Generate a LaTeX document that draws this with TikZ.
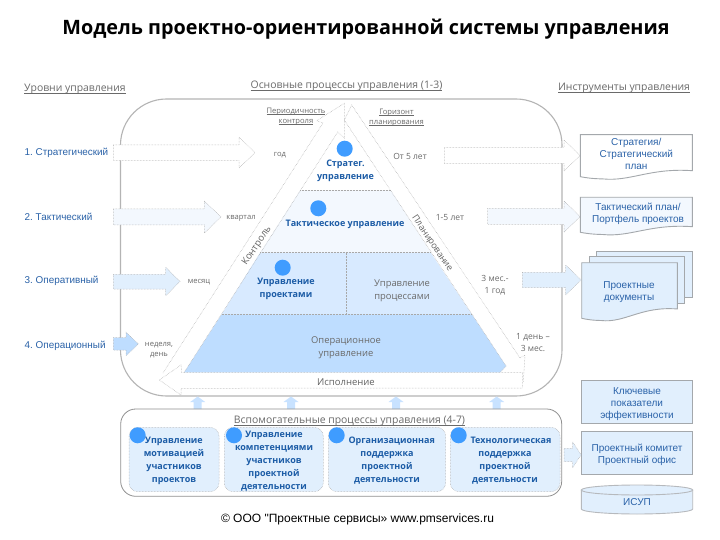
\documentclass[tikz,border=0pt]{standalone}
\usepackage{fontspec}
\setmainfont{Open Sans}
\newfontfamily\arialf{Liberation Sans}
\frenchspacing
\definecolor{txtgray}{HTML}{6A6A6A}
\definecolor{txtblue}{HTML}{2A62A8}
\definecolor{boldblue}{HTML}{1C5CA6}
\definecolor{edgegray}{HTML}{B4B4B4}
\definecolor{docedge}{HTML}{A4A8AC}
\definecolor{dotgray}{HTML}{A8A8A8}
\definecolor{fillA}{HTML}{F3F8FE}
\definecolor{fillB}{HTML}{D8EAFF}
\definecolor{fillC}{HTML}{BEDDFF}
\definecolor{fillD}{HTML}{E1EFFD}
\definecolor{dotblue}{HTML}{3F9CFF}
\newcommand{\ul}[1]{\leavevmode\setbox0\hbox{#1}\rlap{\vrule width\wd0 height-1.1pt depth1.6pt}\box0}
\tikzset{
  blockarrow/.style={draw=dotgray,line width=.5pt,densely dotted},
  dotline/.style={draw=dotgray,line width=.5pt,densely dotted},
  docbox/.style={draw=docedge,line width=.9pt},
  marker/.style={circle,fill=dotblue,minimum size=16pt,inner sep=0pt},
  lab/.style={inner sep=0pt,align=center,text=txtgray,font=\fontsize{8.5}{12}\selectfont},
  period/.style={inner sep=0pt,align=center,text=txtgray,font=\fontsize{7.6}{10.5}\selectfont},
  head/.style={inner sep=0pt,align=center,text=txtgray,font=\fontsize{10.4}{12}\selectfont},
  small/.style={inner sep=0pt,align=center,text=txtgray,font=\fontsize{7.6}{10}\selectfont},
  level/.style={inner sep=0pt,anchor=west,text=txtblue,font=\arialf\fontsize{9.9}{12}\selectfont},
  doc/.style={inner sep=0pt,align=center,text=txtblue,font=\arialf\fontsize{10}{12.2}\selectfont},
  strong/.style={inner sep=0pt,align=center,text=boldblue,font=\bfseries\fontsize{9}{13}\selectfont},
  mid/.style={inner sep=0pt,align=center,text=txtgray,font=\fontsize{9.4}{13}\selectfont},
  dark/.style={inner sep=0pt,align=center,text=black!62,font=\fontsize{9.5}{12}\selectfont},
  upfill/.style={fill=fillC!85!white},
}
\newcommand{\hblock}[8]{% tail, top, bot, headx, barbtop, barbbot, tip, fill
  \path[blockarrow,fill=#8] (#1,#2) -- (#4,#2) -- (#4,#5) -- (#7,{(#5+#6)/2}) -- (#4,#6) -- (#4,#3) -- (#1,#3) -- cycle;}
\newcommand{\upblock}[1]{%
  \path[upfill] (#1-4,409) -- (#1-4,402) -- (#1-7.5,402) -- (#1,396.5) -- (#1+7.5,402) -- (#1+4,402) -- (#1+4,409) -- cycle;}
\newcommand{\wavedoc}[6]{% x1,x2,top,ybl,ybr,fill
  \path[docbox,fill=#6] (#1,#3) -- (#2,#3) -- (#2,#5) .. controls ({#1+0.62*(#2-#1)},#5-3) and ({#1+0.45*(#2-#1)},#4+5) .. ({#1+0.2*(#2-#1)},#4+2.2) .. controls ({#1+0.1*(#2-#1)},#4+2) and ({#1+0.05*(#2-#1)},#4+1) .. (#1,#4) -- cycle;}
\begin{document}
\begin{tikzpicture}[x=1pt,y=-1pt]
\useasboundingbox (0,0) rectangle (720,540);
\fill[white] (0,0) rectangle (720,540);

% title
\node[inner sep=0pt,font=\bfseries\fontsize{19.8}{22}\selectfont] (title) at (366,29) {Модель проектно-ориентированной системы управления};

% headings
\node[head,anchor=west] (hL) at (24,89.5) {\ul{Уровни управления}};
\node[head] (hC) at (346.5,86) {\ul{Основные процессы управления (1-3)}};
\node[head] (hR) at (624,88.5) {\ul{Инструменты управления}};

% main frame
\draw[edgegray,line width=1.1pt,rounded corners=46pt] (120.5,99) rectangle (562,396);

% pyramid
\path[fill=white] (337.7,132) -- (344.3,138) -- (344.3,120) -- (391,190.5) -- (300,190.5) -- cycle;
\path[fill=fillA] (300,190.5) -- (391,190.5) -- (430.7,252.7) -- (260,252.7) -- cycle;
\path[fill=fillB] (260,252.7) -- (430.7,252.7) -- (471.7,314.3) -- (221.7,314.3) -- cycle;
\path[fill=fillC] (221.7,314.3) -- (471.7,314.3) -- (506,366) -- (500,372.3) -- (184.3,372.3) -- cycle;
\draw[dotline] (300,190.5) -- (391,190.5);
\draw[dotline] (260,252.7) -- (430.7,252.7);
\draw[dotline] (221.7,314.3) -- (471.7,314.3);
\draw[dotline] (346.3,252.7) -- (346.3,314.3);

% control arrow
\draw[dotline] (184.3,372.3) -- (337.7,132) -- (344.3,138) -- (344.3,103.3) -- (316.7,120.7) -- (323,123) -- (163,373);
% planning arrow
\draw[dotline] (344.3,120) -- (351.7,105) -- (520,358) -- (525,355) -- (523.3,381.7);
\draw[dotline] (344.3,120) -- (506,366) -- (500,372.3);
% execution arrow
\draw[dotline] (522.3,372.7) -- (181.7,372.7) -- (181,365) -- (159.3,380) -- (181,395) -- (181,388.3) -- (522.3,388) -- cycle;

% left block arrows
\hblock{113.3}{145}{160.5}{239}{137.3}{168}{255}{white}
\hblock{113.3}{209}{225}{204.3}{201}{233}{221}{fillA}
\hblock{113.3}{274.3}{289}{165.7}{267.3}{295.7}{180}{fillD}
\hblock{113.3}{337.7}{350}{126}{332.3}{355.7}{138.3}{fillC}
% right block arrows
\hblock{444.3}{147.3}{163.3}{564}{140}{171}{580}{white}
\hblock{487.7}{208.3}{224.3}{564}{201}{232.3}{580}{fillA}
\hblock{522.3}{272.3}{287.7}{565.7}{265}{295}{581}{fillD}
\hblock{564}{448.3}{461.7}{572.7}{442}{467.7}{581}{fillD}

% up arrows
\upblock{197.7}\upblock{291}\upblock{396}\upblock{496.7}

% markers on the pyramid
\node[marker] (m1) at (344.7,148.7) {};
\node[marker] (m2) at (318.3,208.3) {};
\node[marker] (m3) at (282.7,267.7) {};

% level labels
\node[level] (l1) at (24.5,152.7) {1. Стратегический};
\node[level] (l2) at (24.5,216.5) {2. Тактический};
\node[level] (l3) at (24.5,281) {3. Оперативный};
\node[level] (l4) at (24.5,345.5) {4. Операционный};

% periods
\node[small] (pc) at (296,116.5) {\ul{Периодичность}\\\ul{контроля}};
\node[small] (hp) at (396.5,117.5) {\ul{Горизонт}\\\ul{планирования}};
\node[period] (p1) at (280,155) {год};
\node[period] (p2) at (241,218) {квартал};
\node[period] (p3) at (199,282) {месяц};
\node[period] (p4) at (159,350) {неделя,\\день};
\node[lab] (h1) at (410,156) {От 5 лет};
\node[lab] (h2) at (450,218) {1-5 лет};
\node[lab] (h3) at (495,285) {3 мес.-\\1 год};
\node[lab] (h4) at (533,343) {1 день –\\3 мес.};

% pyramid labels
\node[strong] (s1) at (345.5,171) {Стратег.\\управление};
\node[strong] (s2) at (345,224) {Тактическое управление};
\node[strong] (s3) at (286,288.5) {Управление\\проектами};
\node[mid] (s4) at (402,291) {Управление\\процессами};
\node[mid] (s5) at (346,348) {Операционное\\управление};
\node[dark] (s6) at (346,382) {Исполнение};
\node[dark,rotate=56] (ctl) at (257,246) {Контроль};
\node[dark,rotate=-56,font=\fontsize{9}{12}\selectfont] (pln) at (432,243.5) {Планирование};

% right documents
\wavedoc{580.3}{692.3}{134.7}{176.7}{170.7}{white}
\node[doc] (d1) at (636.3,154) {Стратегия/\\Стратегический\\план};
\wavedoc{580.3}{692.3}{197.3}{232.3}{226.7}{fillA}
\node[doc] (d2) at (638,214) {Тактический план/\\Портфель проектов};
\path[docbox,fill=fillD] (596.7,251) rectangle (692.7,297.3);
\path[docbox,fill=fillD] (589.3,256.7) rectangle (684.7,303.3);
\wavedoc{581.7}{677.3}{262.7}{318.3}{309}{fillD}
\node[doc] (d3) at (629,291.7) {Проектные\\документы};
\node[docbox,fill=fillD,minimum width=111.4pt,minimum height=43pt,inner sep=0pt] (kpibox) at (637,402.2) {};
\node[doc] (d4) at (637,404) {Ключевые\\показатели\\эффективности};
\node[docbox,fill=fillD,minimum width=111.4pt,minimum height=43pt,inner sep=0pt] (pcbox) at (637,452.8) {};
\node[doc] (d5) at (637,455) {Проектный комитет\\Проектный офис};
\path[docbox,draw=docedge!80,fill=fillD] (581.3,490) -- (581.3,509) arc[start angle=180,end angle=360,x radius=55.7pt,y radius=5pt] -- (692.7,490);
\path[docbox,draw=docedge!80,fill=fillD] (637,490) ellipse[x radius=55.7pt,y radius=5pt];
\node[doc] (d6) at (637,502) {ИСУП};

% support frame
\draw[edgegray!80!black,line width=.8pt,rounded corners=15pt] (120.7,409) rectangle (561.7,496.3);
\node[head] (hS) at (349.5,421) {\ul{Вспомогательные процессы управления (4-7)}};
\foreach \n/\xa/\xb in {b1/129/219,b2/224.3/323.3,b3/328.3/445.7,b4/450.3/560}{
  \path[dotline,fill=fillD,rounded corners=9pt] (\xa,427.3) rectangle (\xb,491.7);
}
\node[marker] (m4) at (137.7,435.3) {};
\node[marker] (m5) at (234,435.3) {};
\node[marker] (m6) at (336.7,435.3) {};
\node[marker] (m7) at (458.7,435.3) {};
\node[strong] (t1) at (174,460.5) {Управление\\мотивацией\\участников\\проектов};
\node[strong] (t2) at (274,461) {Управление\\компетенциями\\участников\\проектной\\деятельности};
\node[strong] (t3) at (387,460.5) {\hspace*{9.4pt}Организационная\\поддержка\\проектной\\деятельности};
\node[strong] (t4) at (505,460.5) {\hspace*{12pt}Технологическая\\поддержка\\проектной\\деятельности};

% footer
\node[inner sep=0pt,font=\arialf\fontsize{12}{14}\selectfont] (foot) at (357.5,519) {© ООО "Проектные сервисы» www.pmservices.ru};
\end{tikzpicture}
\end{document}
